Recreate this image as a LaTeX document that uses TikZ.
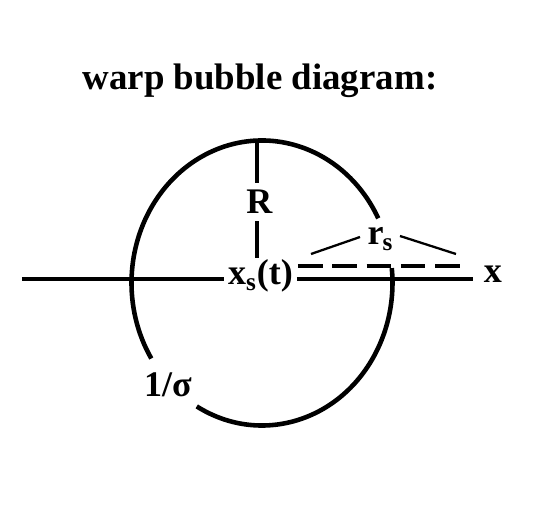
\documentclass[tikz,border=0pt]{standalone}
\usepackage{fontspec}
\setmainfont{Liberation Serif}
\usepackage{tikz}
\usetikzlibrary{calc}
\usetikzlibrary{positioning}

\begin{document}
\begin{tikzpicture}[transform shape,scale=1,
	lbl/.style={font=\bfseries\fontsize{20.5}{24}\selectfont,inner sep=2pt},
	axis/.style={line width=2pt},
	bubble/.style={line width=2.6pt},
	ray/.style={line width=1.3pt}]
	\useasboundingbox (-5.16,-4.64) rectangle (5.86,5.58);
	% title
	\node[anchor=base,font=\bfseries\fontsize{21}{25}\selectfont] (title) at (0.04,3.78) {warp bubble diagram:};
	% labels
	\node[lbl,anchor=base] (xs) at (0.05,-0.12) {x\textsubscript{s}(t)};
	\node[lbl,inner sep=4pt] (R) at (0.03,1.54) {R};
	\node[lbl,anchor=base] (x) at (4.7,-0.08) {x};
	\node[lbl,anchor=base] (rs) at (2.45,0.68) {r\kern-0.5pt\textsubscript{s}};
	\node[lbl,anchor=base] (sig) at (-1.8,-2.36) {1/σ};
	% end points
	\coordinate (left) at (-4.72,0);
	\coordinate (top) at (-0.02,2.8);
	\coordinate (bub) at (0.08,-0.08);
	% bubble
	\draw[bubble] ($(bub)+(27:2.61 and 2.85)$) arc[start angle=27,end angle=212,x radius=2.61,y radius=2.85];
	\draw[bubble] ($(bub)+(240:2.61 and 2.85)$) arc[start angle=240,end angle=366,x radius=2.61,y radius=2.85];
	% axes
	\draw[axis] (left) -- (xs.west |- left);
	\draw[axis] (top) -- (top |- R.north);
	\draw[axis] (top |- R.south) -- (top |- 0,0.42);
	\draw[axis,shorten >=4pt] (0.78,0) -- (x.west |- 0,0);
	\draw[axis,dash pattern=on 14pt off 5.5pt] (0.8,0.26) -- (4.2,0.26);
	% r_s
	\draw[ray] (1.06,0.5) -- (2.04,0.84);
	\draw[ray] (2.84,0.86) -- (3.96,0.5);
\end{tikzpicture}
\end{document}
